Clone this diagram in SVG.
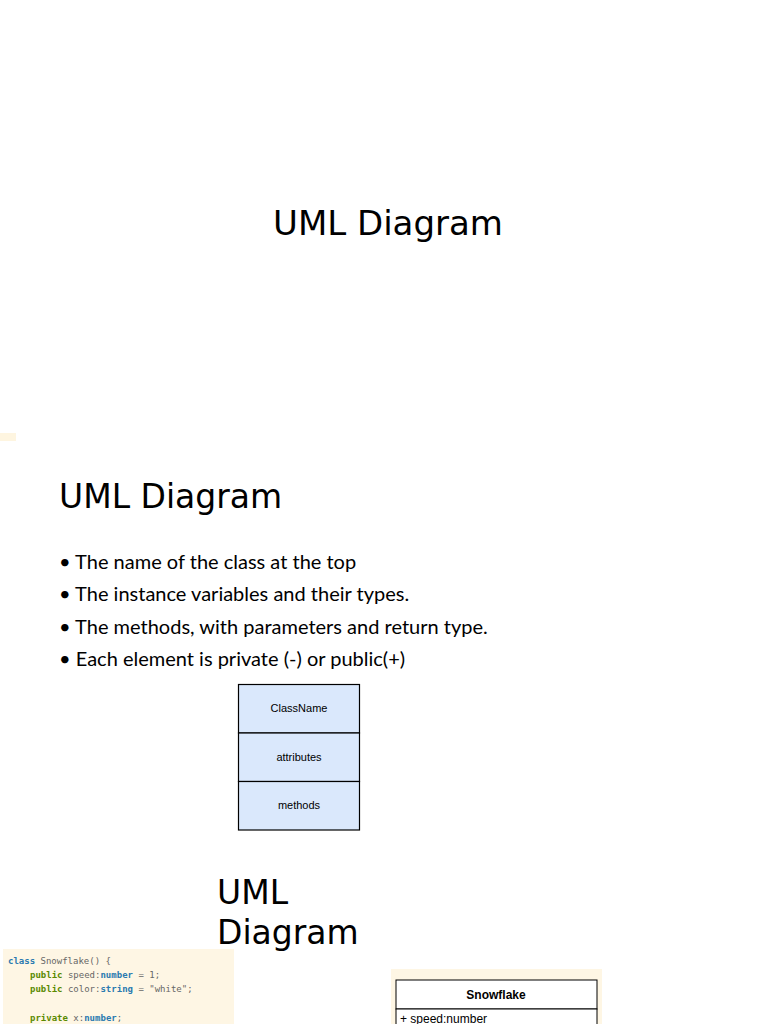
<svg xmlns="http://www.w3.org/2000/svg" width="768" height="1024" viewBox="0 0 768 1024">
<style>
.t{font-family:"DejaVu Sans",sans-serif;fill:#000}
.b{font-family:"Lato","Open Sans",sans-serif;font-size:20px;fill:#000}
.box{fill:#dae8fc;stroke:#000;stroke-width:1.2}
.s{font-family:"Liberation Sans",Arial,sans-serif;font-size:11px;text-anchor:middle}
.c{font-family:"DejaVu Sans Mono",monospace;font-size:9px;fill:#666}
.k{fill:#2a7ab0;font-weight:bold}
.kw{fill:#5a8a00;font-weight:bold}
</style>
<rect width="768" height="1024" fill="#fff"/>
<text class="t" x="388" y="235" font-size="34" text-anchor="middle">UML Diagram</text>
<rect x="0" y="433" width="16" height="8" fill="#fef5e0"/>
<text class="t" x="59" y="508" font-size="33">UML Diagram</text>
<text class="b" x="59" y="569">• The name of the class at the top</text>
<text class="b" x="59" y="601">• The instance variables and their types.</text>
<text class="b" x="59" y="634">• The methods, with parameters and return type.</text>
<text class="b" x="59" y="666">• Each element is private (-) or public(+)</text>
<g id="classbox">
<rect class="box" x="238.5" y="684.5" width="121" height="48.5"/>
<rect class="box" x="238.5" y="733" width="121" height="48.5"/>
<rect class="box" x="238.5" y="781.5" width="121" height="48.5"/>
<text class="s" x="299" y="712">ClassName</text>
<text class="s" x="299" y="761">attributes</text>
<text class="s" x="299" y="809">methods</text>
</g>
<text class="t" x="217" y="904" font-size="33">UML</text>
<text class="t" x="217" y="944" font-size="33">Diagram</text>
<g id="code">
<rect x="3" y="949" width="231" height="75" fill="#fef6e4"/>
<text class="c" x="8" y="964"><tspan class="k">class</tspan> Snowflake() {</text>
<text class="c" x="30" y="978"><tspan class="kw">public</tspan> speed:<tspan class="k">number</tspan> = 1;</text>
<text class="c" x="30" y="992"><tspan class="kw">public</tspan> color:<tspan class="k">string</tspan> = "white";</text>
<text class="c" x="30" y="1021"><tspan class="kw">private</tspan> x:<tspan class="k">number</tspan>;</text>
</g>
<g id="snowflake">
<rect x="391" y="969" width="211" height="55" fill="#fef6e4"/>
<rect x="396" y="980" width="201" height="29" fill="#fff" stroke="#000"/>
<rect x="396" y="1009" width="201" height="20" fill="#fff" stroke="#000"/>
<text x="496" y="999" font-family="Liberation Sans,Arial,sans-serif" font-size="12" font-weight="bold" text-anchor="middle">Snowflake</text>
<text x="400" y="1023" font-family="Liberation Sans,Arial,sans-serif" font-size="12">+ speed:number</text>
</g>
</svg>
